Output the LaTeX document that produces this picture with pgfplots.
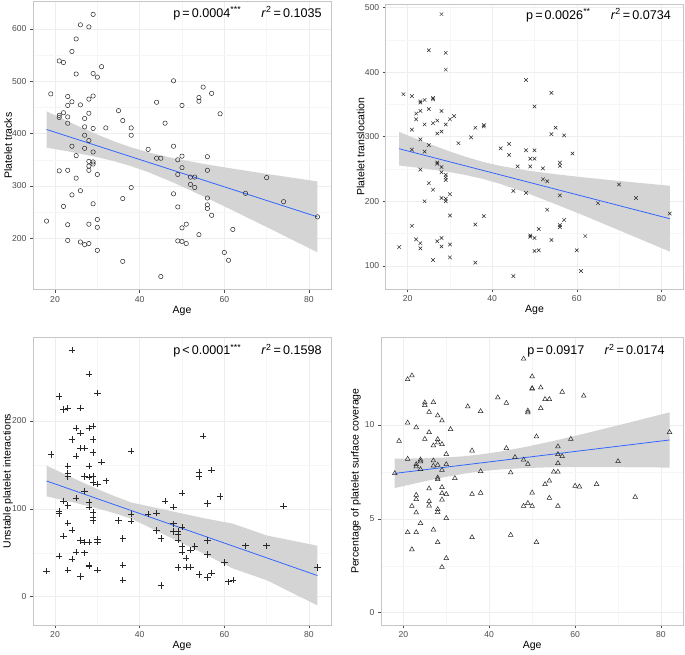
\documentclass[border=0pt]{standalone}
\usepackage{fontspec}
\setmainfont{Liberation Sans}
\usepackage{pgfplots}
\pgfplotsset{compat=1.18}
\definecolor{lineblue}{RGB}{51,102,255}
\definecolor{bandgray}{RGB}{212,212,212}
\definecolor{ticktxt}{RGB}{77,77,77}
\definecolor{ptcol}{RGB}{40,40,40}
\tikzset{anno/.style={font=\fontsize{12.6}{14}\selectfont, anchor=east, inner sep=0pt}}
\newcommand{\eq}{\,=\,}
\pgfplotsset{
  panel/.style={
    scale only axis,
    xmin=14.8, xmax=85.2,
    xtick={20,40,60,80},
    minor x tick num=1,
    tick pos=left,
    tick align=outside,
    major tick length=3pt,
    minor tick length=0pt,
    major tick style={ticktxt, line width=0.5pt},
    axis line style={gray!45, line width=0.6pt},
    grid=both,
    major grid style={gray!13, line width=0.5pt},
    minor grid style={gray!7, line width=0.35pt},
    tick label style={font=\fontsize{8.6}{10}\selectfont, text=ticktxt},
    /pgf/number format/assume math mode=true,
    /pgf/number format/1000 sep={},
    label style={font=\fontsize{10.5}{12}\selectfont},
    xlabel={Age},
    xlabel style={at={(axis description cs:0.5,0)}, anchor=center, yshift=-21pt},
    ylabel style={at={(axis description cs:0,0.5)}, anchor=center, yshift=25pt},
    clip=true,
  },
  pts/.style={only marks, ptcol, line width=0.5pt},
  reg/.style={lineblue, line width=0.8pt, no marks},
  band/.style={fill=bandgray, draw=none, no marks},
}
\begin{document}
\begin{tikzpicture}
\useasboundingbox (0pt,0pt) rectangle (685pt,654pt);

% ---------------- Panel 1 ----------------
\begin{axis}[panel, at={(33pt,364.4pt)}, anchor=south west, width=298pt, height=287.8pt,
  ymin=102, ymax=652, ytick={200,300,400,500,600}, minor y tick num=1,
  ylabel={Platelet tracks}]
\addplot[band] coordinates {(18,442.7)(24,419.8)(30,398.3)(34,385.1)(38,373.8)(42,364.3)(48,353.0)(55,342.4)(62,333.1)(70,323.1)(82,308.7)
 (82,173.3)(70,221.5)(62,253.3)(55,280.4)(48,306.4)(42,326.5)(38,337.8)(34,347.3)(30,355.1)(24,364.8)(18,373.3)} --cycle;
\addplot[pts, mark=o, mark size=2.2pt] coordinates {
(29,628)(26,608)(28,604)(25,581)(24,557)(21,539)(22,536)(31,528)(25,514)(29,515)(30,508)(19,476)(23,471)(29,472)(28,466)(24,461)(23,454)(26,455)(28,439)(22,440)(21,435)(21,431)(23,432)(27,429)(23,420)(32,411)(27,413)(29,410)(35,444)(36,425)(38,411)(38,397)(27,397)(28,387)(24,376)(27,372)(29,365)(25,358)(28,347)(29,346)(29,342)(28,338)(28,330)(21,329)(23,330)(30,322)(25,315)(26,291)(38,297)(24,283)(36,276)(29,266)(22,261)(30,236)(18,233)(28,227)(23,226)(30,221)(23,196)(26,193)(27,188)(28,190)(30,177)(36,156)(45,127)(42,370)(44,353)(45,353)(44,460)(46,420)(48,501)(48,376)(49,350)(49,322)(48,285)(49,260)(49,195)(55,489)(57,477)(54,469)(54,462)(50,454)(59,438)(50,357)(56,356)(50,335)(56,330)(52,317)(53,317)(52,303)(53,297)(56,277)(56,264)(56,257)(57,244)(51,227)(50,220)(54,207)(50,194)(51,190)(60,173)(61,158)(62,217)(65,286)(70,316)(74,270)(82,241)};
\addplot[reg] coordinates {(18,408)(82,241)};
\node[anno] at (rel axis cs:0.969,0.96) {p\eq0.0004\textsuperscript{***}\hspace{1.6em}\textit{r}\textsuperscript{2}\eq0.1035};
\end{axis}

% ---------------- Panel 2 ----------------
\begin{axis}[panel, at={(385.7pt,364.7pt)}, anchor=south west, width=297.6pt, height=285.3pt,
  ymin=63.6, ymax=505.7, ytick={100,200,300,400,500}, minor y tick num=1,
  ylabel={Platelet translocation}]
\addplot[band] coordinates {(18,307.4)(24,291.7)(30,277.1)(34,268.3)(38,260.7)(42,254.7)(48,247.9)(55,241.9)(62,236.8)(70,231.5)(82,224.0)
 (82,122.0)(70,155.1)(62,177.0)(55,195.5)(48,213.3)(42,226.7)(38,234.3)(34,240.3)(30,245.1)(24,250.7)(18,255.4)} --cycle;
\addplot[pts, mark=x, mark size=2.5pt] coordinates {
(28,490)(25,434)(29,430)(29,404)(19,366)(21,363)(26,360)(26,358)(24,357)(23,355)(23,353)(22,336)(25,343)(23,340)(28,340)(22,327)(31,332)(30,327)(27,325)(26,321)(24,319)(29,319)(38,318)(38,316)(36,314)(21,311)(28,308)(27,305)(35,299)(23,296)(32,290)(25,287)(21,280)(24,277)(42,282)(44,289)(44,272)(27,260)(27,258)(28,253)(23,249)(28,245)(29,241)(29,237)(29,233)(25,228)(26,218)(45,216)(30,211)(28,205)(29,204)(29,200)(24,200)(30,178)(38,177)(36,164)(21,162)(22,141)(28,143)(27,138)(23,135)(30,133)(28,130)(18,129)(23,127)(30,113)(26,109)(36,105)(45,84)(48,388)(54,368)(50,347)(55,314)(54,304)(57,302)(48,279)(50,279)(59,274)(49,266)(50,266)(56,260)(49,254)(56,255)(46,254)(52,251)(52,234)(53,231)(70,226)(48,213)(56,209)(74,205)(65,197)(53,187)(82,181)(57,171)(56,163)(56,160)(51,157)(49,147)(49,145)(50,143)(62,146)(54,140)(50,123)(51,124)(60,124)(61,92)};
\addplot[reg] coordinates {(18,281.4)(82,173.0)};
\node[anno] at (rel axis cs:0.959,0.961) {p\eq0.0026\textsuperscript{**}\hspace{1.6em}\textit{r}\textsuperscript{2}\eq0.0734};
\end{axis}

% ---------------- Panel 3 ----------------
\begin{axis}[panel, at={(33pt,29pt)}, anchor=south west, width=298pt, height=287.7pt,
  ymin=-32.3, ymax=295.3, ytick={0,100,200}, minor y tick num=1,
  ylabel={Unstable platelet interactions}]
\addplot[band] coordinates {(18,149.2)(24,135.5)(30,122.5)(34,114.5)(38,107.2)(42,103.1)(48,96.8)(55,89.5)(62,83.1)(70,69.7)(82,58.0)
 (82,-10.0)(70,18.7)(62,32.1)(55,49.3)(48,65.6)(42,79.5)(38,88.8)(34,95.1)(30,100.5)(24,107.7)(18,114.2)} --cycle;
\addplot[pts, mark=+, mark size=3.2pt] coordinates {
(24,281)(28,253.5)(30,232)(21,228)(22,213)(23,215)(26,215)(25,192)(29,194)(28,192)(26,186)(24,179)(29,179)(26,169)(27,169)(19,162)(29,164)(38,166)(25,160)(31,153)(23,149)(28,149)(23,140)(23,137)(27,137)(28,136)(29,137)(29,130)(30,128)(32,132)(27,120)(25,112)(22,109)(28,108)(23,104)(28,102)(46,109)(48,102)(21,97)(21,94.5)(29,96)(42,94)(44,95)(38,94)(29,90)(29,86.5)(35,86.5)(38,86)(23,84)(24,76)(44,75.5)(22,69)(45,66)(36,66)(26,64)(27,62)(28,62)(30,65)(30,62)(21,46)(25,51)(27,50)(24,43)(28,36)(28,35)(36,36)(18,29)(23,30)(30,30)(26,23)(36,19)(45,12.5)(49,33)(55,183)(54,142)(54,137)(57,144)(50,118)(59,114)(56,106)(74,103)(48,83)(50,79)(49,75)(48,74)(49,71)(49,64.5)(56,64)(50,57)(53,57)(52,53)(50,51)(51,44)(56,48)(65,58)(70,58)(60,39)(51,34)(52,34)(54,25)(56,22)(57,27)(61,17)(62,19)(82,33)};
\addplot[reg] coordinates {(18,131.7)(82,24.0)};
\node[anno] at (rel axis cs:0.969,0.953) {p\,<\,0.0001\textsuperscript{***}\hspace{1.6em}\textit{r}\textsuperscript{2}\eq0.1598};
\end{axis}

% ---------------- Panel 4 ----------------
\begin{axis}[panel, at={(381pt,29pt)}, anchor=south west, width=302.3pt, height=287.7pt,
  ymin=-0.657, ymax=14.67, ytick={0,5,10}, minor y tick num=1,
  ylabel={Percentage of platelet surface coverage}]
\addplot[band] coordinates {(18,8.20)(24,8.22)(30,8.27)(34,8.33)(38,8.43)(42,8.56)(48,8.81)(55,9.15)(62,9.53)(70,9.98)(82,10.67)
 (82,7.73)(70,7.75)(62,7.76)(55,7.75)(48,7.70)(42,7.62)(38,7.53)(34,7.40)(30,7.24)(24,6.95)(18,6.64)} --cycle;
\addplot[pts, mark=triangle, mark size=2.7pt] coordinates {
(22,12.63)(21,12.43)(42,11.46)(44,11.17)(27,11.21)(25,11.19)(25,11.05)(35,10.98)(38,10.73)(26,10.69)(28,10.5)(29,10.23)(21,10.12)(23,9.87)(31,9.77)(26,9.61)(25,9.25)(28,9.24)(19,9.15)(28,9.06)(29,8.97)(27,8.9)(44,8.76)(36,8.63)(30,8.44)(21,8.19)(24,8.15)(27,8.1)(24,8.05)(23,7.9)(28,7.87)(30,7.9)(23,7.78)(27,7.82)(24,7.64)(29,7.6)(18,7.42)(38,7.53)(45,7.46)(32,7.16)(28,7.19)(28,7.1)(26,6.61)(29,6.68)(29,6.36)(30,6.31)(36,6.32)(38,6.38)(23,6.27)(23,6.04)(29,6.02)(26,5.93)(26,5.7)(22,5.68)(28,5.51)(28,5.35)(23,5.33)(30,5.03)(24,4.76)(27,4.42)(21,4.28)(23,4.28)(45,4.14)(36,4.01)(28,3.75)(22,3.37)(30,2.9)(29,2.43)(48,13.52)(50,12.58)(50,11.95)(50,11.93)(52,11.99)(57,11.76)(53,11.37)(54,11.37)(62,11.55)(52,10.89)(49,10.76)(49,10.66)(82,9.61)(51,9.38)(59,9.25)(56,8.85)(56,8.44)(57,8.33)(46,8.28)(48,8.14)(49,7.92)(56,7.96)(70,8.06)(55,7.5)(56,7.5)(54,7.02)(53,6.84)(60,6.75)(61,6.71)(65,6.84)(50,6.39)(54,6.11)(74,6.16)(48,5.68)(49,5.83)(50,5.68)(56,5.68)(51,3.75)};
\addplot[reg] coordinates {(18,7.42)(82,9.20)};
\node[anno] at (rel axis cs:0.939,0.953) {p\eq0.0917\hspace{1.6em}\textit{r}\textsuperscript{2}\eq0.0174};
\end{axis}
\end{tikzpicture}
\end{document}
